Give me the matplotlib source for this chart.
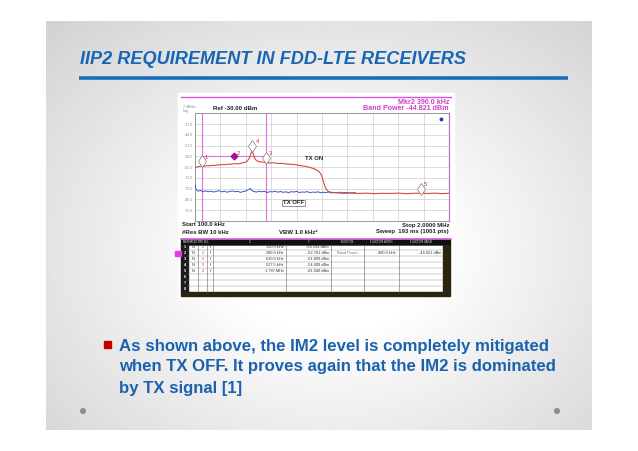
import numpy as np
import matplotlib
matplotlib.use("Agg")
import matplotlib.pyplot as plt
from matplotlib.patches import Rectangle, Circle

plt.rcParams['font.family'] = ['Liberation Sans', 'DejaVu Sans']

# ---- data ----
title = "IIP2 REQUIREMENT IN FDD-LTE RECEIVERS"
bullet_lines = ["As shown above, the IM2 level is completely mitigated",
                "when TX OFF. It proves again that the IM2 is dominated",
                "by TX signal [1]"]

# TX ON trace (MHz, dBm)
red_f = [0.100, 0.115, 0.130, 0.150, 0.170, 0.190, 0.210, 0.230, 0.250, 0.270,
         0.290, 0.310, 0.330, 0.350, 0.370, 0.390, 0.410, 0.430, 0.450, 0.470,
         0.490, 0.505, 0.515, 0.522, 0.5275, 0.533, 0.540, 0.550, 0.565, 0.580,
         0.600, 0.630, 0.660, 0.690, 0.720, 0.750, 0.780, 0.810, 0.840, 0.870,
         0.900, 0.930, 0.960, 0.985, 1.005, 1.025, 1.040, 1.052, 1.062, 1.072,
         1.082, 1.095, 1.115, 1.140, 1.170, 1.210, 1.260, 1.320, 1.380, 1.440,
         1.500, 1.560, 1.620, 1.680, 1.740, 1.787, 1.840, 1.900, 1.950, 2.000]
red_db = [-65.3, -64.9, -64.6, -64.2, -64.4, -64.0, -64.1, -63.8, -63.9, -63.5,
          -63.6, -63.3, -63.4, -63.0, -63.1, -62.8, -62.7, -62.8, -62.3, -62.0,
          -61.1, -59.4, -57.2, -55.4, -54.4, -55.5, -57.6, -59.8, -61.0, -61.4,
          -61.7, -61.9, -62.3, -62.2, -62.6, -62.5, -62.9, -63.1, -63.3, -63.7,
          -64.1, -64.6, -65.2, -65.9, -66.6, -67.7, -69.2, -71.7, -74.7, -77.5,
          -79.4, -80.7, -81.3, -81.6, -81.7, -82.0, -81.8, -82.1, -81.9, -82.2,
          -82.0, -82.1, -81.9, -82.2, -82.0, -81.9, -82.1, -81.9, -82.2, -82.0]

# TX OFF trace
blue_f = [0.100, 0.105, 0.115, 0.125, 0.140, 0.160, 0.180, 0.200, 0.220, 0.240,
          0.260, 0.280, 0.300, 0.320, 0.340, 0.360, 0.380, 0.400, 0.420, 0.440,
          0.460, 0.480, 0.500, 0.515, 0.525, 0.540, 0.560, 0.580, 0.600, 0.620,
          0.640, 0.660, 0.680, 0.700, 0.720, 0.740, 0.760, 0.780, 0.800, 0.820,
          0.840, 0.860, 0.880, 0.900, 0.920, 0.940, 0.960, 0.980, 1.000, 1.020,
          1.040, 1.060, 1.080, 1.100, 1.120, 1.140, 1.160, 1.180, 1.200, 1.230,
          1.260, 1.300]
blue_db = [-76.5, -78.8, -80.2, -80.6, -80.1, -80.9, -80.4, -81.0, -80.5, -81.2,
           -80.7, -80.3, -81.1, -80.6, -81.3, -80.8, -80.4, -81.0, -80.7, -81.4,
           -80.9, -80.5, -79.6, -78.9, -80.2, -80.8, -81.2, -80.6, -81.0, -80.7,
           -81.5, -80.9, -81.1, -80.6, -81.3, -80.8, -81.4, -81.0, -81.6, -80.9,
           -81.2, -80.7, -81.5, -81.1, -81.3, -80.9, -81.6, -81.2, -81.4, -81.0,
           -81.7, -81.3, -81.5, -81.2, -81.8, -81.4, -81.6, -81.3, -81.7, -81.5,
           -81.8, -81.6]

# marker table
mkr_num = ["1", "2", "3", "4", "5"]
mkr_f = [0.150, 0.390, 0.630, 0.5275, 1.787]
mkr_db = [-64.194, -62.781, -61.899, -54.409, -81.940]
mkr_x_txt = ["150.0 kHz", "390.0 kHz", "630.0 kHz", "527.5 kHz", "1.787 MHz"]
mkr_y_txt = ["-64.194 dBm", "-62.781 dBm", "-61.899 dBm", "-54.409 dBm", "-81.940 dBm"]
band_lo, band_hi, band_level = 0.150, 0.630, -58.0
dot_f, dot_db = 1.94, -34.0

ytick_vals = [-30, -37, -44, -51, -58, -65, -72, -79, -86, -93, -100]

W, H = 638, 451
fig = plt.figure(figsize=(W / 100, H / 100), dpi=100)
bg = fig.add_axes([0, 0, 1, 1])
bg.set_xlim(0, W)
bg.set_ylim(H, 0)
bg.axis("off")

# slide card with soft radial shading
cx0, cx1, cy0, cy1 = 46, 592, 21, 430
xx, yy = np.meshgrid(np.linspace(cx0, cx1, 300), np.linspace(cy0, cy1, 230))
r = np.sqrt(((xx - 330) / 290) ** 2 + ((yy - 250) / 230) ** 2)
shade = 1 - 0.17 * np.clip(r - 0.35, 0, None)
bg.imshow(shade, cmap="gray", vmin=0, vmax=1, extent=(cx0, cx1, cy1, cy0),
          aspect="auto", interpolation="bilinear")

bg.text(80, 60, title, fontsize=13.1, fontweight="bold", fontstyle="italic",
        color="#1766b6", va="center", ha="left")
bg.plot([79, 568], [77.5, 77.5], color="#1a6cc0", lw=2.6, solid_capstyle="butt")

# screenshot background
bg.add_patch(Rectangle((178, 93), 276, 206, color="white", zorder=1))
bg.plot([181, 451], [97, 97], color="#d857d8", lw=1.0, zorder=2)
bg.text(449, 102.6, "Mkr2 390.0 kHz", fontsize=5.1, fontweight="bold",
        color="#cc3fcc", ha="right", va="center", zorder=3)
bg.text(449, 109.0, "Band Power -44.821 dBm", fontsize=5.1, fontweight="bold",
        color="#cc3fcc", ha="right", va="center", zorder=3)
bg.text(183, 107.5, "7 dB/div", fontsize=2.6, color="#888888", va="center", zorder=3)
bg.text(183, 111, "Log", fontsize=2.6, color="#888888", va="center", zorder=3)
bg.text(213, 109, "Ref -30.00 dBm", fontsize=4.4, fontweight="bold",
        color="#222222", va="center", zorder=3)
bg.text(182, 225, "Start 100.0 kHz", fontsize=4.3, fontweight="bold", color="#222222",
        va="center", zorder=3)
bg.text(182, 232, "#Res BW 10 kHz", fontsize=4.3, fontweight="bold", color="#222222",
        va="center", zorder=3)
bg.text(298, 232, "VBW 1.0 kHz*", fontsize=4.3, fontweight="bold", color="#222222",
        va="center", ha="center", zorder=3)
bg.text(449, 225, "Stop 2.0000 MHz", fontsize=4.3, fontweight="bold", color="#222222",
        va="center", ha="right", zorder=3)
bg.text(449, 232, "Sweep  193 ms (1001 pts)", fontsize=4.3, fontweight="bold",
        color="#222222", va="center", ha="right", zorder=3)

# marker table
tl, tr, tt = 181, 450, 239
row_h = 5.9
body_top = 244.5
body_bot = body_top + 8 * row_h
bg.plot([tl, tr + 1], [tt, tt], color="#d857d8", lw=1.2, zorder=3)
bg.add_patch(Rectangle((tl, tt + 0.8), tr - tl, body_top - tt - 0.8, color="#111111", zorder=3))
bg.add_patch(Rectangle((tl, body_top), tr - tl, body_bot - body_top, facecolor="white",
                       edgecolor="#333333", lw=0.4, zorder=3))
bg.add_patch(Rectangle((tl, body_top), 7, body_bot - body_top, color="#1c1c1c", zorder=4))
bg.add_patch(Rectangle((443, body_top), tr - 443, body_bot - body_top, color="#2b2510", zorder=4))
bg.add_patch(Rectangle((tl, body_bot), tr - tl, 4.5, color="#2b2510", zorder=4))
for i in range(1, 8):
    yl = body_top + i * row_h
    bg.plot([tl + 7, 443], [yl, yl], color="#9a9a9a", lw=0.35, zorder=4)
for xd in [198, 207, 213, 286, 331, 364, 399]:
    bg.plot([xd, xd], [body_top, body_bot], color="#666666", lw=0.4, zorder=4)

hdr_y = (tt + body_top) / 2 + 0.4
for hx, ht in [(183, "MKR MODE TRC SCL"), (250, "X"), (309, "Y"), (347, "FUNCTION"),
               (381, "FUNCTION WIDTH"), (421, "FUNCTION VALUE")]:
    bg.text(hx, hdr_y, ht, fontsize=1.8, color="white", va="center",
            ha="left" if hx == 183 else "center", zorder=5)
for i in range(8):
    yc = body_top + (i + 0.5) * row_h
    bg.text(184.5, yc, str(i + 1), fontsize=2.8, fontweight="bold", color="white",
            ha="center", va="center", zorder=5)
for i, n in enumerate(mkr_num):
    yc = body_top + (i + 0.5) * row_h
    bg.text(193, yc, "N", fontsize=2.8, color="#333333", ha="center", va="center", zorder=5)
    bg.text(202.5, yc, "2", fontsize=2.8, color="#d03030", ha="center", va="center", zorder=5)
    bg.text(210, yc, "f", fontsize=2.8, color="#333333", ha="center", va="center", zorder=5)
    bg.text(284, yc, mkr_x_txt[i], fontsize=2.8, color="#333333", ha="right", va="center", zorder=5)
    bg.text(329, yc, mkr_y_txt[i], fontsize=2.8, color="#333333", ha="right", va="center", zorder=5)
yc2 = body_top + 1.5 * row_h
bg.add_patch(Rectangle((175, yc2 - 2.2), 6, 4.4, color="#e040e0", zorder=5))
bg.text(347, yc2, "Band Power", fontsize=2.8, color="#777777", ha="center", va="center", zorder=5)
bg.text(396, yc2, "480.0 kHz", fontsize=2.8, color="#333333", ha="right", va="center", zorder=5)
bg.text(441, yc2, "-44.821 dBm", fontsize=2.8, color="#333333", ha="right", va="center", zorder=5)

# bullet text
bg.add_patch(Rectangle((104, 341), 7, 6.5, color="#c00000"))
for k, line in enumerate(bullet_lines):
    bg.text(119, 346 + k * 21, line, fontsize=12.1, fontweight="bold",
            color="#1a62ae", va="center", ha="left")
bg.add_patch(Circle((83, 411), 2.3, color="#8c8c8c"))
bg.add_patch(Circle((557, 411), 2.3, color="#8c8c8c"))

# ---- spectrum plot ----
px0, px1, py0, py1 = 195, 449, 113.3, 221
ax = fig.add_axes([px0 / W, 1 - py1 / H, (px1 - px0) / W, (py1 - py0) / H])
ax.set_facecolor("white")
ax.set_xlim(0.1, 2.0)
ax.set_ylim(-100, -30)
ax.set_xticks([0.1 + 0.19 * i for i in range(11)])
ax.set_yticks(ytick_vals)
ax.set_xticklabels([])
ax.set_yticklabels(["" if v in (-30, -100) else "%.1f" % v for v in ytick_vals])
ax.tick_params(length=0, labelsize=2.6, labelcolor="#8a8a8a", pad=1.5)
ax.grid(True, color="#cfcfcf", lw=0.5)
for s in ax.spines.values():
    s.set_color("#8a8a8a")
    s.set_linewidth(0.6)
ax.spines["right"].set_color("#c070d0")
ax.spines["right"].set_linewidth(0.9)

ax.axvline(band_lo, color="#e070e0", lw=0.8, zorder=2)
ax.axvline(band_hi, color="#e070e0", lw=0.8, zorder=2)
ax.plot([band_lo, band_hi], [band_level, band_level], color="#e070e0", lw=0.8, zorder=2)

ax.plot(blue_f, blue_db, color="#3a55c8", lw=0.7, zorder=3)
ax.plot(red_f, red_db, color="#d24a45", lw=0.8, zorder=4)

for n, f, d in zip(mkr_num, mkr_f, mkr_db):
    if n == "2":
        ax.plot(f, band_level, marker="D", ms=3.4, color="#a010a0", zorder=6)
        ax.text(f + 0.025, band_level + 1.2, n, fontsize=4.2, color="#c03030", zorder=6)
    else:
        ax.plot(f, d + 3.0, marker="d", ms=6.0, mfc="white", mec="#777777", mew=0.5, zorder=6)
        ax.text(f + 0.025, d + 4.8, n, fontsize=4.2, color="#c03030", zorder=6)

ax.plot(dot_f, dot_db, marker="o", ms=1.8, color="#2040c0", zorder=6)
ax.text(0.99, -59.5, "TX ON", fontsize=4.3, fontweight="bold", color="#222222",
        ha="center", va="center", zorder=6)
ax.text(0.84, -88.3, "TX OFF", fontsize=4.3, fontweight="bold", color="#222222",
        ha="center", va="center", zorder=6,
        bbox=dict(boxstyle="square,pad=0.15", fc="white", ec="#444444", lw=0.4))

fig.savefig("out.png", dpi=100)
